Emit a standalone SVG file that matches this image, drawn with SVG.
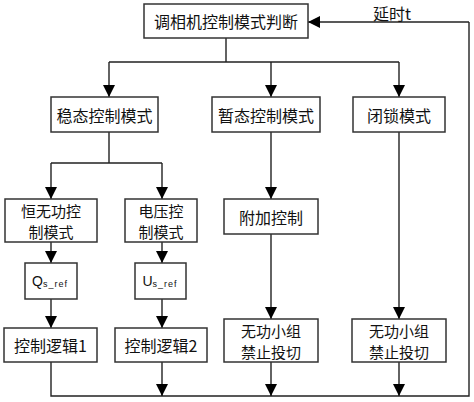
<svg xmlns="http://www.w3.org/2000/svg" width="474" height="402" viewBox="0 0 474 402">
<defs>
<marker id="arr" markerUnits="userSpaceOnUse" markerWidth="12" markerHeight="12" viewBox="0 0 12 12" refX="12" refY="6" orient="auto">
<path d="M0,0 L12,6 L0,12 Z" fill="#000"/>
</marker>
<style>
rect{fill:#fff;stroke:#333;stroke-width:1.5}
text{font-family:"Noto Sans CJK SC","Noto Sans",sans-serif;font-size:16px;fill:#111;text-anchor:middle;dominant-baseline:central}
.t{font-size:15px}
.c path{fill:none;stroke:#222;stroke-width:1.4}
.a{marker-end:url(#arr)}
.s{font-family:"Liberation Sans",sans-serif}
</style>
</defs>
<rect x="0" y="0" width="474" height="402" style="fill:#fff;stroke:none"/>
<g class="c" id="connectors">
<path d="M226,38 V62 M109,62 H399"/>
<path class="a" d="M109,62 V97"/>
<path class="a" d="M271,62 V97"/>
<path class="a" d="M399,62 V97"/>
<path d="M109,132 V163 M51,163 H162"/>
<path class="a" d="M51,163 V199"/>
<path class="a" d="M162,163 V199"/>
<path class="a" d="M51,242 V263"/>
<path class="a" d="M162,242 V263"/>
<path class="a" d="M51,299 V328"/>
<path class="a" d="M162,299 V328"/>
<path class="a" d="M271,132 V199"/>
<path class="a" d="M271,234 V319"/>
<path class="a" d="M399,132 V319"/>
<path d="M51,362 V396 H469 V22"/>
<path class="a" d="M162,362 V396"/>
<path class="a" d="M271,362 V396"/>
<path class="a" d="M399,362 V396"/>
<path class="a" d="M469,22 H308"/>
</g>
<text x="392" y="13">延时t</text>
<g id="n_top"><rect x="144" y="4" width="164" height="34"/><text x="226" y="21">调相机控制模式判断</text></g>
<g id="n_steady"><rect x="51" y="97" width="107" height="35"/><text x="104.5" y="114.5">稳态控制模式</text></g>
<g id="n_transient"><rect x="212" y="97" width="108" height="35"/><text x="266" y="114.5">暂态控制模式</text></g>
<g id="n_lock"><rect x="353" y="97" width="92" height="35"/><text x="399" y="114.5">闭锁模式</text></g>
<g id="n_q"><rect x="5" y="199" width="92" height="43"/><text class="t" x="51" y="210.5">恒无功控</text><text class="t" x="51" y="231">制模式</text></g>
<g id="n_u"><rect x="125" y="199" width="72" height="43"/><text class="t" x="161" y="210.5">电压控</text><text class="t" x="161" y="231">制模式</text></g>
<g id="n_add"><rect x="224" y="199" width="94" height="35"/><text x="271" y="216.5">附加控制</text></g>
<g id="n_qref"><rect x="25" y="263" width="52" height="36"/><text class="s" x="50" y="281" style="font-size:14px">Q<tspan style="font-size:9px;letter-spacing:1px" dy="3">s_ref</tspan></text></g>
<g id="n_uref"><rect x="135" y="263" width="51" height="36"/><text class="s" x="160" y="281" style="font-size:14px">U<tspan style="font-size:9px;letter-spacing:1px" dy="3">s_ref</tspan></text></g>
<g id="n_l1"><rect x="4" y="328" width="93" height="34"/><text x="50.5" y="345">控制逻辑1</text></g>
<g id="n_l2"><rect x="115" y="328" width="92" height="34"/><text x="161" y="345">控制逻辑2</text></g>
<g id="n_b1"><rect x="224" y="319" width="94" height="43"/><text class="t" x="271" y="330.5">无功小组</text><text class="t" x="271" y="351">禁止投切</text></g>
<g id="n_b2"><rect x="352" y="319" width="94" height="43"/><text class="t" x="399" y="330.5">无功小组</text><text class="t" x="399" y="351">禁止投切</text></g>
</svg>
